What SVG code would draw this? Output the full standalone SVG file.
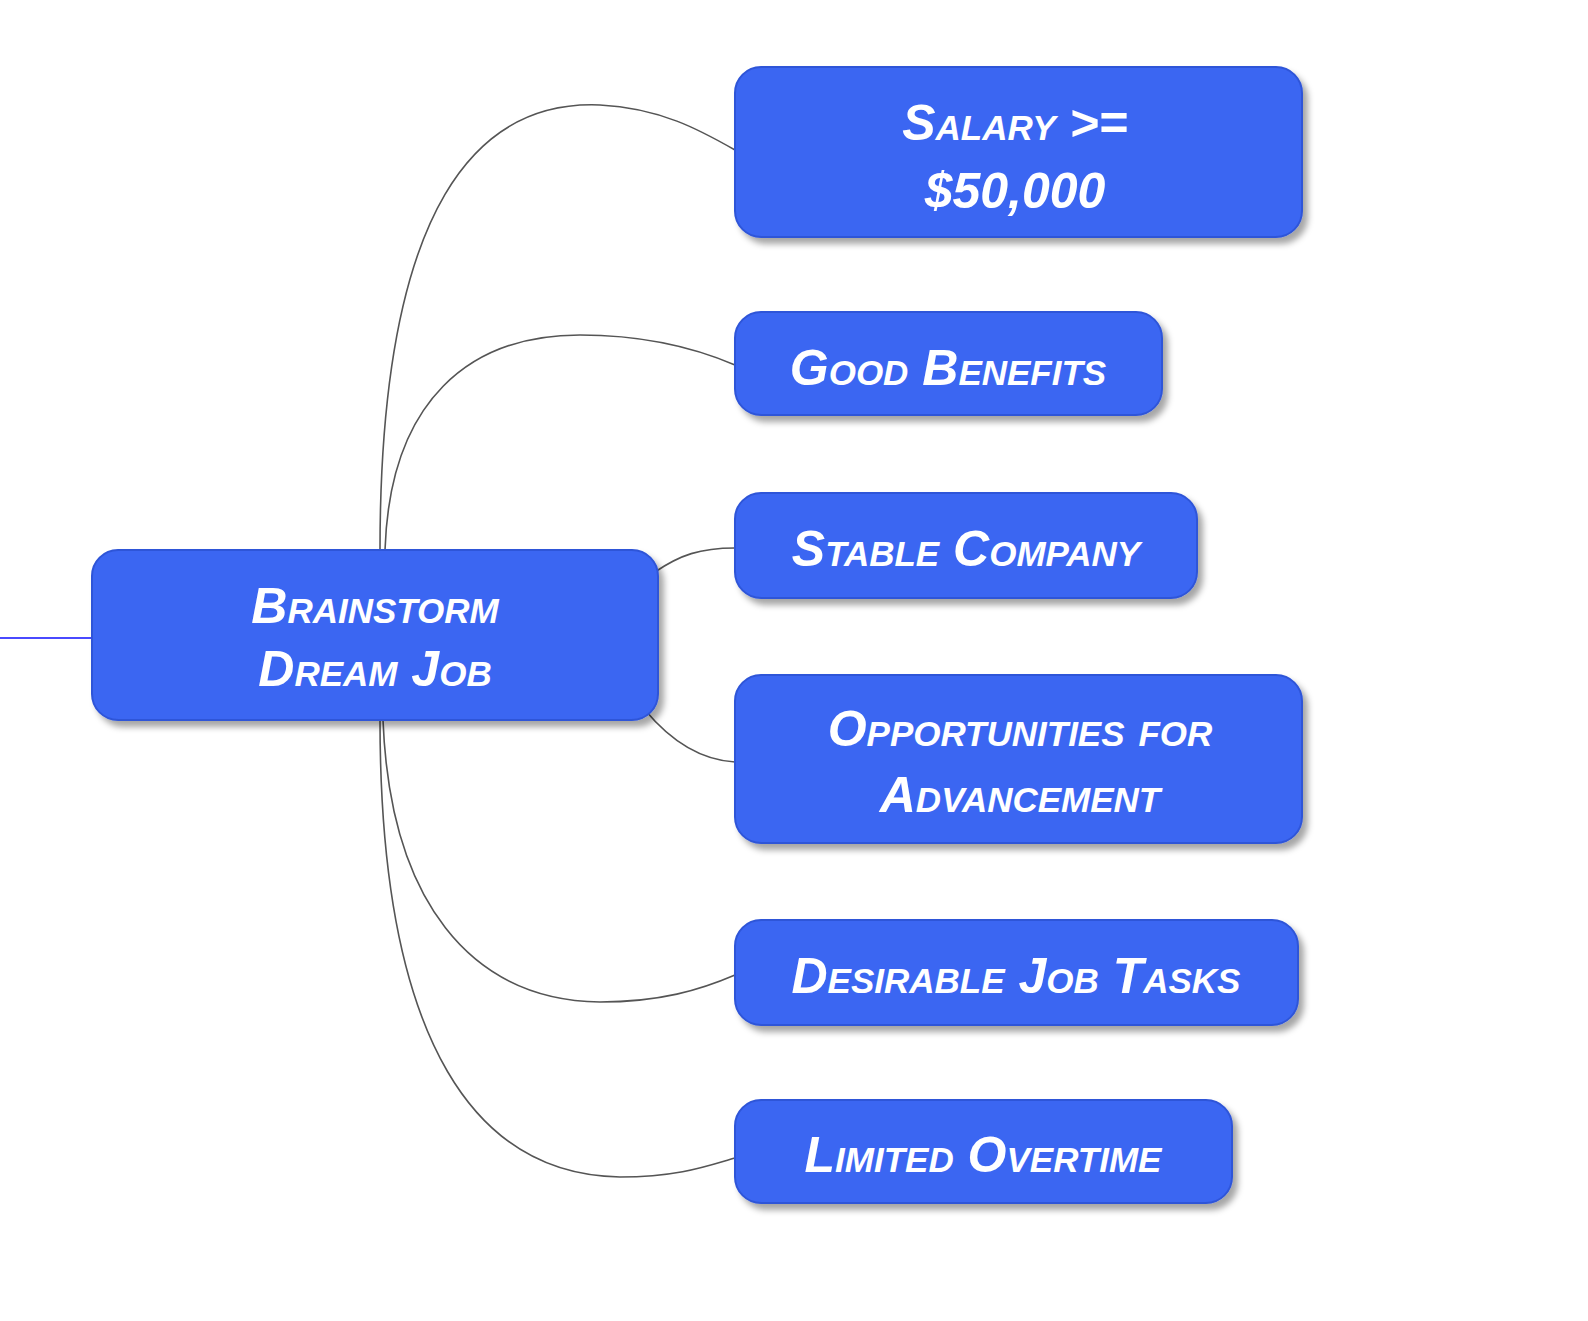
<svg xmlns="http://www.w3.org/2000/svg" width="1588" height="1321" viewBox="0 0 1588 1321">
<defs>
<filter id="sh" x="-10%" y="-10%" width="130%" height="140%"><feDropShadow dx="5" dy="6" stdDeviation="3" flood-color="#000" flood-opacity="0.35"/></filter>
<style>
.n{fill:#3a66f2;stroke:#2f55d8;stroke-width:2;filter:url(#sh)}
.t{fill:#fff;font-family:"Liberation Sans",Arial,sans-serif;font-style:italic;font-weight:bold;font-variant:small-caps;font-size:50px;text-anchor:middle}
.c{fill:none;stroke:#555;stroke-width:1.6}
</style>
</defs>
<rect width="1588" height="1321" fill="#fff"/>
<g id="connectors">
<path class="c" d="M380,550 C380,200 480,100 600,105 C660,108 700,130 735,150"/>
<path class="c" d="M385,550 C390,400 470,335 580,335 C650,335 700,350 735,365"/>
<path class="c" d="M655,572 C680,555 700,548 735,548"/>
<path class="c" d="M645,710 C670,740 700,760 735,762"/>
<path class="c" d="M383,720 C390,900 470,1000 600,1002 C660,1002 700,990 735,975"/>
<path class="c" d="M380,720 C380,1050 480,1175 620,1177 C680,1177 710,1165 735,1158"/>
<path d="M0,638 H92" stroke="#4a4aff" stroke-width="2"/>
</g>
<g id="center"><rect class="n" x="92" y="550" width="566" height="170" rx="26"/><text class="t" x="375" y="623">Brainstorm</text><text class="t" x="375" y="686">Dream Job</text></g>
<g id="salary"><rect class="n" x="735" y="67" width="567" height="170" rx="26"/><text class="t" x="1015" y="140">Salary &gt;=</text><text class="t" x="1015" y="208">$50,000</text></g>
<g id="benefits"><rect class="n" x="735" y="312" width="427" height="103" rx="26"/><text class="t" x="948" y="385">Good Benefits</text></g>
<g id="stable"><rect class="n" x="735" y="493" width="462" height="105" rx="26"/><text class="t" x="966" y="566">Stable Company</text></g>
<g id="opportunities"><rect class="n" x="735" y="675" width="567" height="168" rx="26"/><text class="t" x="1020" y="746">Opportunities for</text><text class="t" x="1020" y="812">Advancement</text></g>
<g id="desirable"><rect class="n" x="735" y="920" width="563" height="105" rx="26"/><text class="t" x="1016" y="993">Desirable Job Tasks</text></g>
<g id="overtime"><rect class="n" x="735" y="1100" width="497" height="103" rx="26"/><text class="t" x="983" y="1172">Limited Overtime</text></g>
</svg>
